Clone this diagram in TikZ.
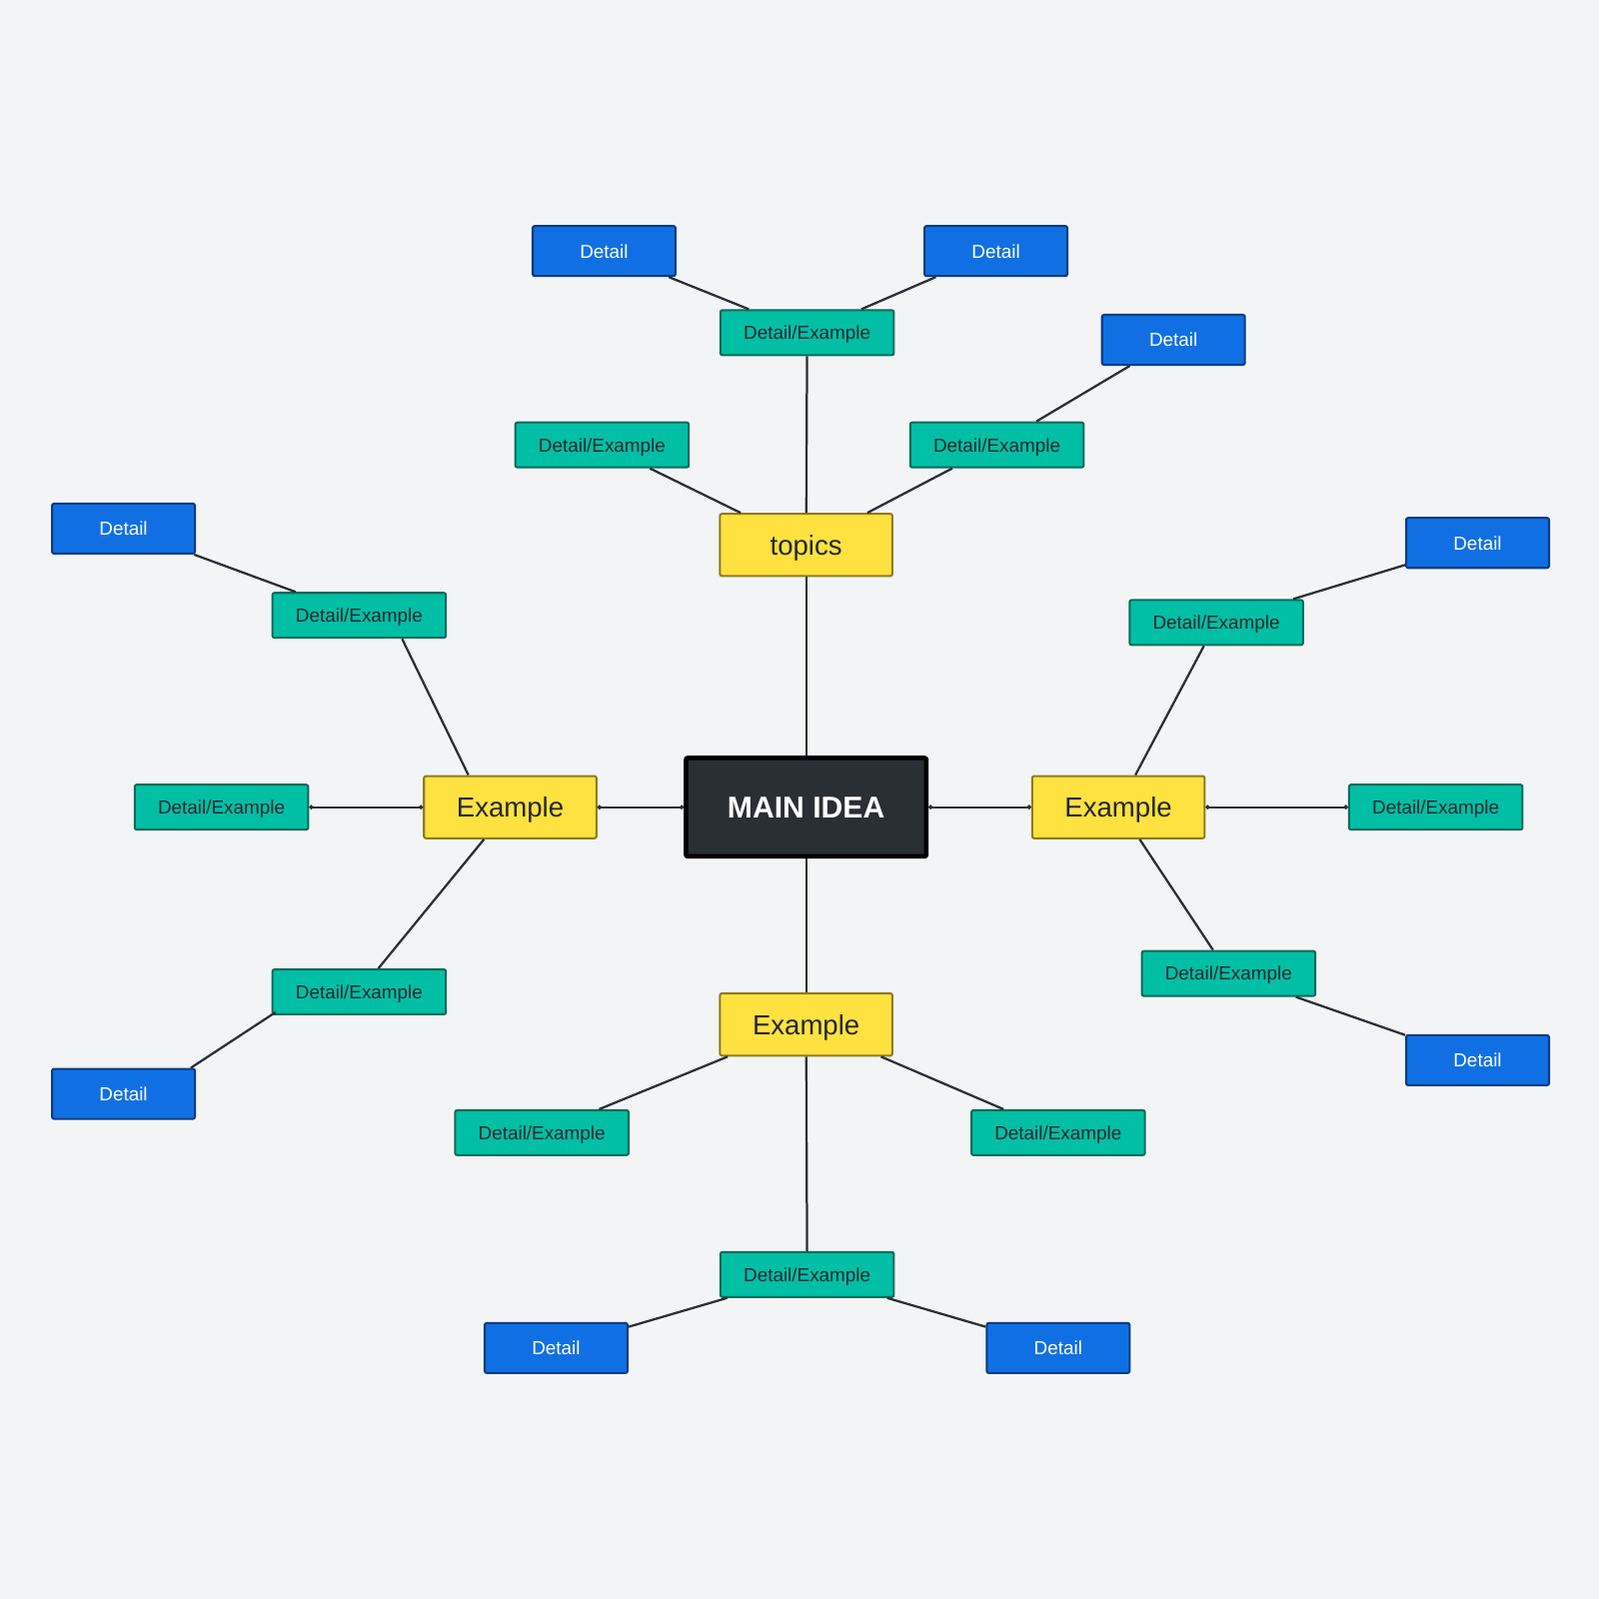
\documentclass[tikz,border=0pt]{standalone}
\usepackage{fontspec}
\setmainfont{Liberation Sans}
\usetikzlibrary{arrows.meta}
\definecolor{bgcol}{HTML}{F3F4F6}
\definecolor{maincol}{HTML}{2A2E35}
\definecolor{linkcol}{HTML}{2A2E35}
\definecolor{inkcol}{HTML}{23272E}
\definecolor{yelfill}{HTML}{FFE23F}
\definecolor{yeldraw}{HTML}{8E7B22}
\definecolor{tealfill}{HTML}{00BFA5}
\definecolor{tealdraw}{HTML}{0E6B5C}
\definecolor{bluefill}{HTML}{1070E3}
\definecolor{bluedraw}{HTML}{0D3B80}
\begin{document}
\begin{tikzpicture}[x=1pt,y=-1pt,
    box/.style={draw, line width=2pt, rounded corners=2pt, inner sep=0pt, text depth=0pt, text=inkcol},
    mainbox/.style={box, draw=black, line width=4.5pt, fill=maincol, text=white,
      minimum width=235.5pt, minimum height=96.5pt, font=\fontsize{29.5}{34}\selectfont\bfseries},
    topicbox/.style={box, draw=yeldraw, fill=yelfill, minimum width=169pt, minimum height=61pt,
      font=\fontsize{27}{32}\selectfont},
    subbox/.style={box, draw=tealdraw, fill=tealfill, minimum width=170pt, minimum height=44pt,
      font=\fontsize{18.5}{22}\selectfont},
    detailbox/.style={box, draw=bluedraw, fill=bluefill, text=white, minimum width=140pt,
      minimum height=49pt, font=\fontsize{18.5}{22}\selectfont},
    link/.style={draw=linkcol, line width=2.2pt},
    dotlink/.style={link, {Circle[length=4pt]}-{Circle[length=4pt]}}]
  \fill[bgcol] (0,0) rectangle (1567,1567);
  \useasboundingbox (0,0) rectangle (1567,1567);
  % centre and topics
  \node [mainbox] (main) at (790,791) {MAIN IDEA};
  \node [topicbox] (topics) at (790,534) {topics}; % top
  \node [topicbox] (exl) at (500,791) {Example}; % left
  \node [topicbox] (exr) at (1096,791) {Example}; % right
  \node [topicbox] (exb) at (790,1004) {Example}; % bottom
  % detail/example boxes
  \node [subbox] (dtc) at (791,326) {Detail/Example}; % top-middle
  \node [subbox] (dtl) at (590,436) {Detail/Example}; % top-left
  \node [subbox] (dtr) at (977,436) {Detail/Example}; % top-right
  \node [subbox] (dl1) at (352,603) {Detail/Example}; % left-top
  \node [subbox] (dl2) at (217,791) {Detail/Example}; % left-middle
  \node [subbox] (dl3) at (352,972) {Detail/Example}; % left-bottom
  \node [subbox] (dr1) at (1192,610) {Detail/Example}; % right-top
  \node [subbox] (dr2) at (1407,791) {Detail/Example}; % right-middle
  \node [subbox] (dr3) at (1204,954) {Detail/Example}; % right-bottom
  \node [subbox] (db1) at (531,1110) {Detail/Example}; % bottom-left
  \node [subbox] (db2) at (1037,1110) {Detail/Example}; % bottom-right
  \node [subbox] (db3) at (791,1249) {Detail/Example}; % bottom-middle
  % details
  \node [detailbox] (detTL) at (592,246) {Detail};
  \node [detailbox] (detTR) at (976,246) {Detail};
  \node [detailbox] (detTR2) at (1150,333) {Detail};
  \node [detailbox] (detLT) at (121,518) {Detail};
  \node [detailbox] (detLB) at (121,1072) {Detail};
  \node [detailbox] (detRT) at (1448,532) {Detail};
  \node [detailbox] (detRB) at (1448,1039) {Detail};
  \node [detailbox] (detBL) at (545,1321) {Detail};
  \node [detailbox] (detBR) at (1037,1321) {Detail};
  % connectors
  \foreach \a/\b in {main/topics, main/exb, topics/dtc, topics/dtl, topics/dtr,
      dtc/detTL, dtc/detTR, dtr/detTR2, exl/dl3, dl1/detLT, exr/dr1, exr/dr3,
      dr1/detRT, dr3/detRB, exb/db1, exb/db2, exb/db3, db3/detBL, db3/detBR}
    \draw [link] (\a) -- (\b);
  \foreach \a/\b in {exl/main, main/exr, dl2/exl, exr/dr2}
    \draw [dotlink] (\a) -- (\b);
  \draw [link] ([xshift=-41pt]exl.north) -- ([xshift=42pt]dl1.south);
  \draw [link] ([shift={(4pt,3pt)}]dl3.south west) -- ([xshift=-5pt]detLB.north east);
\end{tikzpicture}
\end{document}
